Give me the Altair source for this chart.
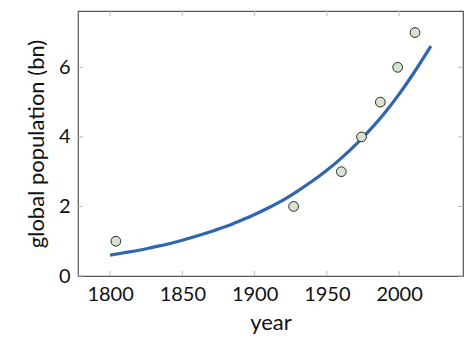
import altair as alt
import pandas as pd

# observed points
obs_year = [1804, 1927, 1960, 1974, 1987, 1999, 2011]
obs_pop = [1, 2, 3, 4, 5, 6, 7]

# fitted curve
fit_year = [1800, 1810, 1820, 1830, 1840, 1850, 1860, 1870, 1880, 1890, 1900,
            1910, 1920, 1930, 1940, 1950, 1960, 1970, 1980, 1990, 2000, 2010, 2022]
fit_pop = [0.60, 0.67, 0.74, 0.83, 0.92, 1.03, 1.15, 1.28, 1.42, 1.59, 1.77,
           1.97, 2.19, 2.45, 2.73, 3.04, 3.39, 3.78, 4.21, 4.69, 5.23, 5.83, 6.61]

x_ticks = [1800, 1850, 1900, 1950, 2000]
y_ticks = [0, 2, 4, 6]

obs = pd.DataFrame({"year": obs_year, "pop": obs_pop})
fit = pd.DataFrame({"year": fit_year, "pop": fit_pop})
xt = pd.DataFrame({"v": x_ticks})
yt = pd.DataFrame({"v": y_ticks})

FONT = "Lato"
W, H = 385, 265
xs = alt.Scale(domain=[1777.8, 2044.2], nice=False, zero=False)
ys = alt.Scale(domain=[0, 7.62], nice=False, zero=False)

xaxis = alt.Axis(values=x_ticks, format="d", title="year", grid=False, ticks=False,
                 labelFont=FONT, labelFontSize=20, labelColor="#111", labelPadding=8,
                 titleFont=FONT, titleFontSize=22, titleFontWeight="normal",
                 titleColor="#111", titlePadding=8, domain=False)
yaxis = alt.Axis(values=y_ticks, format="d", title="global population (bn)", grid=False,
                 ticks=False, labelFont=FONT, labelFontSize=20, labelColor="#111",
                 labelPadding=8, titleFont=FONT, titleFontSize=22,
                 titleFontWeight="normal", titleColor="#111", titlePadding=10,
                 domain=False)

line = alt.Chart(fit).mark_line(color="#2f66ae", strokeWidth=3.2, interpolate="monotone").encode(
    x=alt.X("year:Q", scale=xs, axis=xaxis),
    y=alt.Y("pop:Q", scale=ys, axis=yaxis),
)

pts = alt.Chart(obs).mark_point(filled=True, fill="#d7e3d0", stroke="#2a2a2a",
                                strokeWidth=1, size=95, opacity=1, shape="circle").encode(
    x=alt.X("year:Q", scale=xs),
    y=alt.Y("pop:Q", scale=ys),
)

tick_color = "#bbbbbb"
xb = alt.Chart(xt).mark_rule(color=tick_color, strokeWidth=1).encode(
    x=alt.X("v:Q", scale=xs), y=alt.value(H), y2=alt.value(H - 5))
xtop = alt.Chart(xt).mark_rule(color=tick_color, strokeWidth=1).encode(
    x=alt.X("v:Q", scale=xs), y=alt.value(0), y2=alt.value(5))
yl = alt.Chart(yt).mark_rule(color=tick_color, strokeWidth=1).encode(
    y=alt.Y("v:Q", scale=ys), x=alt.value(0), x2=alt.value(5))
yr = alt.Chart(yt).mark_rule(color=tick_color, strokeWidth=1).encode(
    y=alt.Y("v:Q", scale=ys), x=alt.value(W), x2=alt.value(W - 5))

chart = alt.layer(xb, xtop, yl, yr, line, pts).properties(
    width=W, height=H,
    padding={"left": 78, "top": 11, "right": 11, "bottom": 75},
    autosize="none",
    background="white",
).configure_view(stroke="#555555", strokeWidth=1.2)

chart.save("out.html", embed_options={"renderer": "svg", "actions": False})
